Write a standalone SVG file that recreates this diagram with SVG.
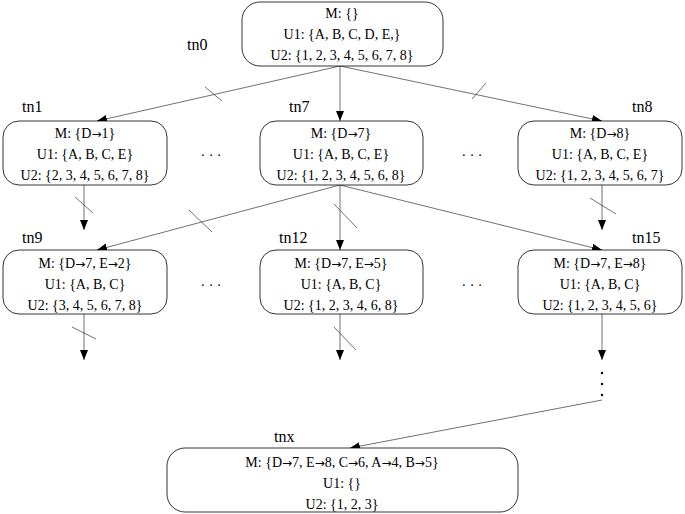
<svg xmlns="http://www.w3.org/2000/svg" width="685" height="514" viewBox="0 0 685 514">
<style>
text{font-family:"Liberation Serif",serif;font-size:14px;fill:#000;text-anchor:middle}
.lb{font-size:16px;text-anchor:start}
.ar{font-family:"DejaVu Sans",sans-serif;font-size:12px}
rect{fill:#fff;stroke:#000;stroke-width:0.8}
.c line,.c path{stroke:#333;stroke-width:0.7;fill:none}
.s{stroke:#555;stroke-width:0.7}
</style>
<defs><marker id="a" viewBox="0 0 10 10" refX="10" refY="5" markerWidth="10" markerHeight="10" markerUnits="userSpaceOnUse" orient="auto"><path d="M0,1 L10,5 L0,9z" fill="#000"/></marker></defs>
<rect width="685" height="514" style="fill:#fff;stroke:none"/>
<g class="c">
<line x1="340" y1="66" x2="97" y2="121" marker-end="url(#a)"/>
<line x1="340" y1="66" x2="340" y2="121" marker-end="url(#a)"/>
<line x1="340" y1="66" x2="602" y2="121" marker-end="url(#a)"/>
<line x1="84" y1="185" x2="84" y2="230" marker-end="url(#a)"/>
<line x1="340" y1="185" x2="97" y2="250" marker-end="url(#a)"/>
<line x1="340" y1="185" x2="340" y2="250" marker-end="url(#a)"/>
<line x1="340" y1="185" x2="602" y2="250" marker-end="url(#a)"/>
<line x1="602" y1="185" x2="602" y2="230" marker-end="url(#a)"/>
<line x1="84" y1="314" x2="84" y2="360" marker-end="url(#a)"/>
<line x1="340" y1="314" x2="340" y2="360" marker-end="url(#a)"/>
<line x1="602" y1="314" x2="602" y2="360" marker-end="url(#a)"/>
<line x1="602" y1="400" x2="350" y2="448" marker-end="url(#a)"/>
<line class="s" x1="205" y1="87" x2="222" y2="101"/>
<line class="s" x1="472" y1="99" x2="486" y2="83"/>
<line class="s" x1="75" y1="197" x2="93" y2="213"/>
<line class="s" x1="189" y1="210" x2="212" y2="232"/>
<line class="s" x1="334" y1="204" x2="357" y2="228"/>
<line class="s" x1="590" y1="198" x2="616" y2="214"/>
<line class="s" x1="72" y1="327" x2="96" y2="339"/>
<line class="s" x1="334" y1="327" x2="356" y2="350"/>
</g>
<g id="tn0"><rect x="242" y="2" width="201" height="64" rx="18"/><text x="342" y="18">M: {}</text><text x="342" y="39">U1: {A, B, C, D, E,}</text><text x="342" y="60">U2: {1, 2, 3, 4, 5, 6, 7, 8}</text><text class="lb" x="187" y="50">tn0</text></g>
<g id="tn1"><rect x="3" y="121" width="164" height="64" rx="16"/><text x="85" y="138">M: {D<tspan class="ar">→</tspan>1}</text><text x="85" y="159">U1: {A, B, C, E}</text><text x="85" y="180">U2: {2, 3, 4, 5, 6, 7, 8}</text><text class="lb" x="22" y="112">tn1</text></g>
<g id="tn7"><rect x="260" y="121" width="163" height="64" rx="16"/><text x="341" y="138">M: {D<tspan class="ar">→</tspan>7}</text><text x="341" y="159">U1: {A, B, C, E}</text><text x="341" y="180">U2: {1, 2, 3, 4, 5, 6, 8}</text><text class="lb" x="289" y="112">tn7</text></g>
<g id="tn8"><rect x="518" y="121" width="164" height="64" rx="16"/><text x="600" y="138">M: {D<tspan class="ar">→</tspan>8}</text><text x="600" y="159">U1: {A, B, C, E}</text><text x="600" y="180">U2: {1, 2, 3, 4, 5, 6, 7}</text><text class="lb" x="632" y="112">tn8</text></g>
<g id="tn9"><rect x="3" y="250" width="164" height="64" rx="16"/><text x="85" y="268">M: {D<tspan class="ar">→</tspan>7, E<tspan class="ar">→</tspan>2}</text><text x="85" y="289">U1: {A, B, C}</text><text x="85" y="310">U2: {3, 4, 5, 6, 7, 8}</text><text class="lb" x="22" y="243">tn9</text></g>
<g id="tn12"><rect x="260" y="250" width="163" height="64" rx="16"/><text x="341" y="268">M: {D<tspan class="ar">→</tspan>7, E<tspan class="ar">→</tspan>5}</text><text x="341" y="289">U1: {A, B, C}</text><text x="341" y="310">U2: {1, 2, 3, 4, 6, 8}</text><text class="lb" x="279" y="243">tn12</text></g>
<g id="tn15"><rect x="518" y="250" width="164" height="64" rx="16"/><text x="600" y="268">M: {D<tspan class="ar">→</tspan>7, E<tspan class="ar">→</tspan>8}</text><text x="600" y="289">U1: {A, B, C}</text><text x="600" y="310">U2: {1, 2, 3, 4, 5, 6}</text><text class="lb" x="632" y="243">tn15</text></g>
<g id="tnx"><rect x="167" y="448" width="351" height="64" rx="18"/><text x="342" y="467">M: {D<tspan class="ar">→</tspan>7, E<tspan class="ar">→</tspan>8, C<tspan class="ar">→</tspan>6, A<tspan class="ar">→</tspan>4, B<tspan class="ar">→</tspan>5}</text><text x="342" y="488">U1: {}</text><text x="342" y="509">U2: {1, 2, 3}</text><text class="lb" x="274" y="442">tnx</text></g>
<g id="dots"><text x="211" y="160">· · ·</text><text x="472" y="160">· · ·</text><text x="211" y="290">· · ·</text><text x="472" y="290">· · ·</text>
<circle cx="602" cy="373" r="1.2"/><circle cx="602" cy="384" r="1.2"/><circle cx="602" cy="395" r="1.2"/></g>
</svg>
